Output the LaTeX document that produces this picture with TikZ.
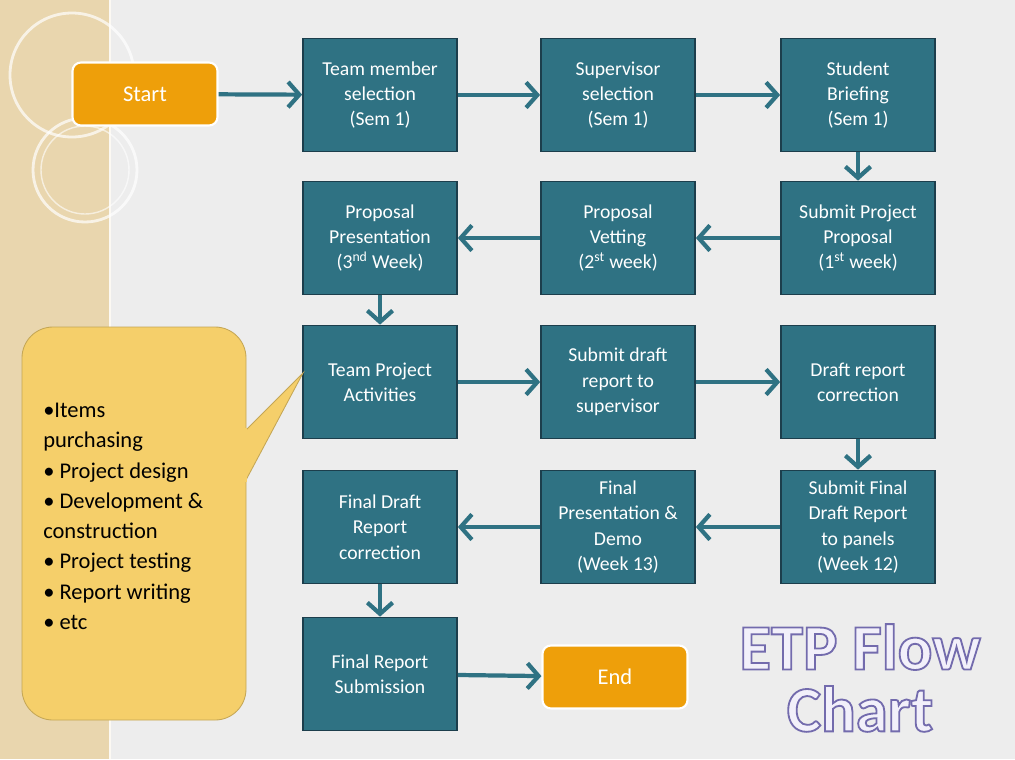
\documentclass[tikz,border=0pt]{standalone}
\usepackage{fontspec}
\setmainfont{Carlito}
\usetikzlibrary{arrows.meta}
\definecolor{boxc}{HTML}{2F7283}
\definecolor{boxb}{HTML}{1C3E4C}
\definecolor{bg}{HTML}{EDEDED}
\definecolor{beige}{HTML}{E9D6AE}
\definecolor{org}{HTML}{EE9F0A}
\definecolor{call}{HTML}{F5CF6A}
\definecolor{lav}{HTML}{F2F0FA}
\begin{document}
\begin{tikzpicture}[x=0.025cm,y=-0.025cm,
 box/.style={draw=boxb,line width=1.2pt,fill=boxc,minimum width=154*0.025cm,minimum height=113*0.025cm,text=white,align=center,font=\fontsize{14}{18}\selectfont,inner sep=1pt},
 term/.style={draw=white,line width=1.5pt,fill=org,rounded corners=6pt,minimum width=145*0.025cm,minimum height=63*0.025cm,text=white,font=\fontsize{16}{19}\selectfont},
 arr/.style={draw=boxc,line width=3pt,-{Straight Barb[length=8pt,width=18pt,line width=3pt]}},
 ttl/.style={font=\fontsize{46}{44}\bfseries\selectfont,align=center,text=lav}]
\useasboundingbox (0,0) rectangle (1015,759);
\fill[bg] (0,0) rectangle (1015,759);
\fill[beige] (0,0) rectangle (110,759);
\draw[white!85!beige,line width=1pt] (110,0) -- (110,759);
\draw[white,line width=2pt,opacity=0.7] (72,75) circle (62);
\draw[white,line width=2pt,opacity=0.7] (85,170) circle (52);
\draw[white,line width=1pt,opacity=0.6] (85,170) circle (44);
% nodes
\node[term] (start) at (145,94) {Start};
\node[box] (a1) at (380,95) {Team member\\selection\\(Sem 1)};
\node[box] (a2) at (618,95) {Supervisor\\selection\\(Sem 1)};
\node[box] (a3) at (858,95) {Student\\Briefing\\(Sem 1)};
\node[box] (b3) at (858,238) {Submit Project\\Proposal\\(1\textsuperscript{st} week)};
\node[box] (b2) at (618,238) {Proposal\\Vetting\\(2\textsuperscript{st} week)};
\node[box] (b1) at (380,238) {Proposal\\Presentation\\(3\textsuperscript{nd} Week)};
\node[box] (c1) at (380,382) {Team Project\\Activities};
\node[box] (c2) at (618,382) {Submit draft\\report to\\supervisor};
\node[box] (c3) at (858,382) {Draft report\\correction};
\node[box] (d3) at (858,527) {Submit Final\\Draft Report\\to panels\\(Week 12)};
\node[box] (d2) at (618,527) {Final\\Presentation \&\\Demo\\(Week 13)};
\node[box] (d1) at (380,527) {Final Draft\\Report\\correction};
\node[box] (e1) at (380,674) {Final Report\\Submission};
\node[term] (end) at (615,677) {End};
% arrows
\draw[arr] (start) -- (a1);
\draw[arr] (a1) -- (a2);
\draw[arr] (a2) -- (a3);
\draw[arr] (a3) -- (b3);
\draw[arr] (b3) -- (b2);
\draw[arr] (b2) -- (b1);
\draw[arr] (b1) -- (c1);
\draw[arr] (c1) -- (c2);
\draw[arr] (c2) -- (c3);
\draw[arr] (c3) -- (d3);
\draw[arr] (d3) -- (d2);
\draw[arr] (d2) -- (d1);
\draw[arr] (d1) -- (e1);
\draw[arr] (e1) -- (end);
% callout
\coordinate (tip) at (303,373);
\filldraw[fill=call,draw=call!80!black,line width=0.6pt,rounded corners=22pt] (22,327) rectangle (246,720);
\filldraw[fill=call,draw=call!80!black,line width=0.6pt] (246,430) -- (tip) -- (246,480);
\fill[call] (244.5,428) rectangle (247,482);
\node[anchor=north west,align=left,font=\fontsize{16}{21.5}\selectfont,inner sep=0pt] (ct) at (43,403) {•Items\\purchasing\\• Project design\\• Development \&\\construction\\• Project testing\\• Report writing\\• etc};
% title
\node[ttl] (t) at (860,678) {\special{pdf:code 2 Tr 1.3 w 0.45 0.42 0.68 RG}ETP Flow\\Chart\special{pdf:code 0 Tr}};
\end{tikzpicture}
\end{document}
